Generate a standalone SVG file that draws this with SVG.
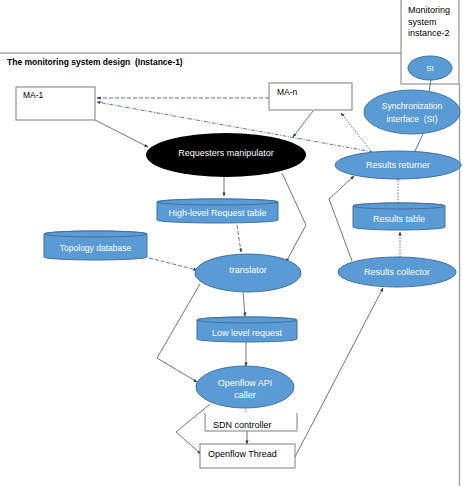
<svg xmlns="http://www.w3.org/2000/svg" width="474" height="486" viewBox="0 0 474 486">
<defs>
<marker id="ah" viewBox="0 0 10 10" refX="9" refY="5" markerWidth="5" markerHeight="5" orient="auto">
<path d="M0,1 L10,5 L0,9 z" fill="#1f3864"/>
</marker>
<style>
text{font-family:"Liberation Sans",Arial,sans-serif;font-size:9px;white-space:pre}
.w{fill:#ffffff;text-anchor:middle}
.k{fill:#000000}
.blue{fill:#5b9bd5;stroke:#41719c;stroke-width:1}
.box{fill:#ffffff;stroke:#7f7f7f;stroke-width:1}
.c{fill:none;stroke:#44546a;stroke-width:0.8}
.a{marker-end:url(#ah)}
.dash{stroke-dasharray:4,2}
.dot{stroke-dasharray:1.5,1.5}
.dd{stroke-dasharray:4,1.5,1,1.5}
</style>
</defs>
<rect width="474" height="486" fill="#ffffff"/>
<g id="frame">
<line x1="0" y1="53" x2="401" y2="53" stroke="#7f7f7f" stroke-width="1"/>
<line x1="459.5" y1="84" x2="459.5" y2="486" stroke="#a6a6a6" stroke-width="1.5"/>
<text x="7" y="65" style="font-weight:bold;font-size:8.5px">The monitoring system design  (Instance-1)</text>
</g>
<g id="instance2">
<rect x="401" y="-2" width="58" height="86" class="box"/>
<text x="408" y="13" class="k">Monitoring</text>
<text x="408" y="24.5" class="k">system</text>
<text x="408" y="36" class="k">instance-2</text>
</g>
<g id="connectors">
<line x1="431" y1="80" x2="429" y2="91" class="c"/>
<line x1="423" y1="134" x2="415" y2="151" class="c"/>
<line x1="95" y1="120" x2="148" y2="147" class="c a"/>
<line x1="313" y1="111" x2="293" y2="137" class="c a"/>
<line x1="269" y1="98" x2="97" y2="98" class="c a dash"/>
<line x1="373" y1="152" x2="97" y2="102" class="c a dd"/>
<line x1="371" y1="151" x2="341" y2="113" class="c a dot"/>
<line x1="224" y1="177" x2="224" y2="196" class="c a"/>
<polyline points="282,173 306,225 286,262" class="c a"/>
<line x1="237" y1="225" x2="241" y2="252" class="c a dash"/>
<line x1="149" y1="258" x2="197" y2="270" class="c a dash"/>
<line x1="243" y1="292" x2="245" y2="316" class="c a"/>
<polyline points="200,284 157,358 197,382" class="c a"/>
<line x1="246" y1="342" x2="246" y2="366" class="c a"/>
<polyline points="210,404 176,432 201,454" class="c a"/>
<line x1="246" y1="409" x2="246" y2="415" class="c" stroke-opacity="0.6"/>
<line x1="247" y1="431" x2="247" y2="444" class="c a"/>
<line x1="295" y1="457" x2="383" y2="288" class="c a"/>
<polyline points="352,261 329,199 354,176" class="c a"/>
<line x1="400" y1="257" x2="400" y2="232" class="c a dot"/>
<line x1="398" y1="203" x2="398" y2="176" class="c a dot"/>
</g>
<g id="si">
<ellipse cx="430" cy="68" rx="22" ry="12" class="blue"/>
<text x="430" y="71" class="w" style="font-size:8px">SI</text>
</g>
<g id="sync">
<ellipse cx="412" cy="112" rx="48" ry="22" class="blue"/>
<text x="412" y="109" class="w" style="font-size:8.5px">Synchronization</text>
<text x="412" y="122" class="w" style="font-size:8.5px">interface  (SI)</text>
</g>
<g id="ma1">
<rect x="16" y="87" width="79" height="33" class="box"/>
<text x="23" y="98" class="k" style="font-size:8.5px">MA-1</text>
</g>
<g id="man">
<rect x="269" y="83" width="83" height="27" class="box"/>
<text x="277" y="95" class="k" style="font-size:8.5px">MA-n</text>
</g>
<g id="requesters">
<ellipse cx="226" cy="155" rx="80" ry="22" fill="#000000"/>
<text x="226" y="156" class="w">Requesters manipulator</text>
</g>
<g id="returner">
<ellipse cx="398" cy="165" rx="63" ry="14" class="blue"/>
<text x="398" y="168" class="w">Results returner</text>
</g>
<g id="resultstable">
<path d="M353,206 A46,3 0 0 1 445,206 V227 A46,3 0 0 1 353,227 Z" class="blue"/>
<ellipse cx="399" cy="206" rx="46" ry="3" class="blue"/>
<text x="399" y="222" class="w">Results table</text>
</g>
<g id="collector">
<ellipse cx="397" cy="272" rx="59" ry="15" class="blue"/>
<text x="397" y="275" class="w">Results collector</text>
</g>
<g id="hlrt">
<path d="M157,202 A60.5,3 0 0 1 278,202 V220 A60.5,3 0 0 1 157,220 Z" class="blue"/>
<ellipse cx="217.5" cy="202" rx="60.5" ry="3" class="blue"/>
<text x="217.5" y="216" class="w">High-level Request table</text>
</g>
<g id="topology">
<path d="M44,234 A51.5,3 0 0 1 147,234 V257 A51.5,3 0 0 1 44,257 Z" class="blue"/>
<ellipse cx="95.5" cy="234" rx="51.5" ry="3" class="blue"/>
<text x="95.5" y="251" class="w" style="font-size:8.5px">Topology database</text>
</g>
<g id="translator">
<ellipse cx="248" cy="273" rx="53" ry="19" class="blue"/>
<text x="248" y="273" class="w">translator</text>
</g>
<g id="lowlevel">
<path d="M197,320 A50,3 0 0 1 297,320 V339 A50,3 0 0 1 197,339 Z" class="blue"/>
<ellipse cx="247" cy="320" rx="50" ry="3" class="blue"/>
<text x="247" y="336" class="w">Low level request</text>
</g>
<g id="apicaller">
<ellipse cx="245" cy="387" rx="49" ry="21" class="blue"/>
<text x="245" y="386" class="w">Openflow API</text>
<text x="245" y="398" class="w">caller</text>
</g>
<g id="sdn">
<path d="M205,413 V431 H297 V413" fill="#ffffff" stroke="#7f7f7f" stroke-width="1"/>
<text x="213" y="428" class="k">SDN controller</text>
</g>
<g id="thread">
<rect x="200" y="444" width="95" height="24" class="box"/>
<text x="208" y="457" class="k">Openflow Thread</text>
</g>
</svg>
